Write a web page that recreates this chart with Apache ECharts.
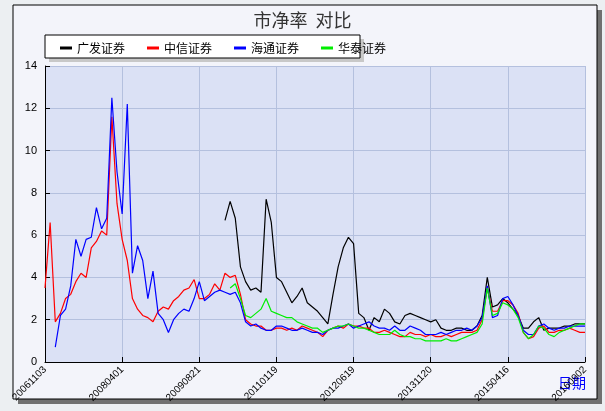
<!DOCTYPE html><html><head><meta charset="utf-8"><script src="https://cdn.jsdelivr.net/npm/echarts@6/dist/echarts.min.js"></script>
<style>html,body{margin:0;background:#eceff2}#c{width:605px;height:411px}</style></head><body><div id="c"></div><script>
const tickLabels=['20061103','20080401','20090821','20110119','20120619','20131120','20150416','20160902'];
const names=['广发证券','中信证券','海通证券','华泰证券'];
const colors=['#000000','#ff0000','#0000ff','#00ee00'];
const N=null;
const gf=[N,N,N,N,N,N,N,N,N,N, N,N,N,N,N,N,N,N,N,N, N,N,N,N,N,N,N,N,N,N, N,N,N,N,N,6.7,7.6,6.8,4.5,3.8,
3.4,3.5,3.3,7.7,6.6,4.0,3.8,3.3,2.8,3.1, 3.5,2.8,2.6,2.4,2.1,1.8,3.2,4.5,5.4,5.9, 5.6,2.3,2.1,1.5,2.1,1.9,2.5,2.3,1.9,1.8,
2.2,2.3,2.2,2.1,2.0,1.9,2.0,1.6,1.5,1.5, 1.6,1.6,1.5,1.5,1.7,2.2,4.0,2.6,2.7,3.0, 2.8,2.5,2.2,1.6,1.6,1.9,2.1,1.5,1.6,1.6, 1.6,1.7,1.7,1.8,1.8,1.8];
const zx=[3.5,6.6,1.9,2.3,3.0,3.2,3.8,4.2,4.0,5.4, 5.7,6.2,6.0,11.6,7.5,5.8,4.8,3.0,2.5,2.2, 2.1,1.9,2.4,2.6,2.5,2.9,3.1,3.4,3.5,3.9,
3.0,3.0,3.2,3.7,3.4,4.2,4.0,4.1,3.2,2.0, 1.8,1.7,1.7,1.5,1.5,1.6,1.6,1.5,1.6,1.5, 1.7,1.6,1.5,1.4,1.2,1.5,1.6,1.7,1.6,1.8,
1.7,1.7,1.6,1.6,1.4,1.4,1.5,1.4,1.3,1.2, 1.2,1.4,1.3,1.3,1.2,1.3,1.2,1.2,1.3,1.2, 1.3,1.4,1.4,1.4,1.5,2.0,3.5,2.4,2.4,2.9,
2.9,2.7,2.3,1.4,1.1,1.2,1.6,1.7,1.4,1.4, 1.5,1.5,1.6,1.5,1.4,1.4];
const ht=[N,N,0.7,2.2,2.5,3.6,5.8,5.0,5.8,5.9, 7.3,6.3,6.8,12.5,9.0,7.0,12.2,4.2,5.5,4.8, 3.0,4.3,2.3,2.0,1.4,2.0,2.3,2.5,2.4,3.0,
3.8,2.9,3.1,3.3,3.4,3.3,3.2,3.3,2.8,1.9, 1.7,1.8,1.6,1.5,1.5,1.7,1.7,1.6,1.5,1.5, 1.6,1.5,1.4,1.4,1.3,1.5,1.6,1.6,1.7,1.8,
1.6,1.7,1.8,1.9,1.7,1.6,1.6,1.5,1.7,1.5, 1.5,1.7,1.6,1.5,1.3,1.3,1.3,1.4,1.3,1.4, 1.5,1.5,1.6,1.5,1.7,2.1,3.6,2.1,2.2,3.0,
3.1,2.7,2.2,1.5,1.3,1.3,1.7,1.8,1.6,1.5, 1.6,1.6,1.7,1.7,1.7,1.7];
const hta=[N,N,N,N,N,N,N,N,N,N, N,N,N,N,N,N,N,N,N,N, N,N,N,N,N,N,N,N,N,N, N,N,N,N,N,N,3.5,3.7,3.0,2.2,
2.1,2.3,2.5,3.0,2.4,2.3,2.2,2.1,2.1,1.9, 1.8,1.7,1.6,1.6,1.4,1.5,1.6,1.7,1.7,1.8, 1.7,1.6,1.6,1.5,1.4,1.3,1.3,1.3,1.5,1.3,
1.2,1.2,1.1,1.1,1.0,1.0,1.0,1.0,1.1,1.0, 1.0,1.1,1.2,1.3,1.4,1.8,3.5,2.2,2.3,2.8, 2.7,2.5,2.1,1.4,1.1,1.3,1.7,1.6,1.3,1.2,
1.4,1.5,1.6,1.7,1.8,1.8];
const all=[gf,zx,ht,hta];
const chart=echarts.init(document.getElementById('c'));
chart.setOption({
 animation:false,
 graphic:[
  {type:'rect',shape:{x:18,y:10,width:584,height:394},style:{fill:'#707070'},z:-10},
  {type:'rect',shape:{x:13,y:5,width:584,height:394},style:{fill:'#f3f4fa',stroke:'#000',lineWidth:1},z:-9},
  {type:'rect',shape:{x:49,y:39,width:315,height:23},style:{fill:'#c8c8c8'},z:-8},
  {type:'rect',shape:{x:45,y:35,width:315,height:23},style:{fill:'#fff',stroke:'#000',lineWidth:1},z:-7},
  {type:'text',left:558,top:376,style:{text:'日期',fill:'#0000ff',font:'14px "Noto Sans CJK SC"'}}
 ],
 title:{text:'市净率  对比',left:'center',top:6,textStyle:{fontSize:18,fontWeight:'normal',color:'#333',fontFamily:'Noto Sans CJK SC'}},
 legend:{left:55,top:37,itemWidth:12,itemHeight:3,itemGap:22,icon:'rect',textStyle:{fontSize:12,color:'#000',fontFamily:'Noto Sans CJK SC'},data:names},
 grid:{left:45,right:20,top:66,bottom:49,show:true,backgroundColor:'#dbe1f5',borderWidth:0},
 xAxis:{type:'value',min:0,max:105,interval:15,
  axisLine:{lineStyle:{color:'#000'}},axisTick:{inside:true,length:5,lineStyle:{color:'#000'}},
  splitLine:{lineStyle:{color:'#b4c0de'}},
  axisLabel:{rotate:45,fontSize:10,color:'#000',margin:6,formatter:v=>tickLabels[Math.round(v/15)]||''}},
 yAxis:{type:'value',min:0,max:14,interval:2,
  axisLine:{show:true,lineStyle:{color:'#000'}},axisTick:{show:true,inside:true,length:5,lineStyle:{color:'#000'}},
  splitLine:{lineStyle:{color:'#b4c0de'}},axisLabel:{fontSize:11,color:'#000'}},
 series:all.map((d,k)=>({name:names[k],type:'line',showSymbol:false,symbol:'none',
  lineStyle:{width:1.2,color:colors[k]},itemStyle:{color:colors[k]},
  data:d.map((v,i)=>[i,v]),z:[2,3,4,5][k]}))
});
</script></body></html>
